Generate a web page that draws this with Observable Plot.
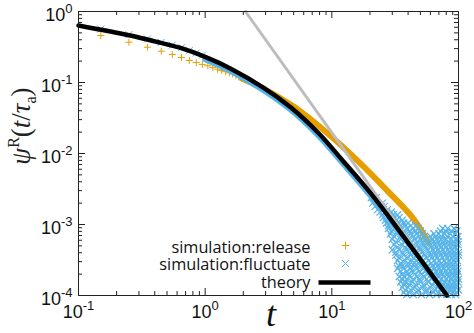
<!DOCTYPE html>
<html><head><meta charset="utf-8">
<script src="https://cdn.jsdelivr.net/npm/d3@7"></script>
<script src="https://cdn.jsdelivr.net/npm/@observablehq/plot@0.6"></script>
<style>body{margin:0;background:#fff}#chart{width:474px;height:333px}</style>
</head><body><div id="chart"></div>
<script>
// ---- axis ticks ----
const xMajor = [0.1, 1, 10, 100];
const yMajor = [1e-4, 1e-3, 1e-2, 1e-1, 1];
const minorSteps = [2, 3, 4, 5, 6, 7, 8, 9];

// ---- theory curve ----
const theoryT   = [0.1, 0.25, 0.4, 0.63, 1.0, 1.58, 2.9, 4.7, 7.9, 12.3, 20, 28.8, 81];
const theoryPsi = [0.635, 0.462, 0.38, 0.309, 0.229, 0.158, 0.0842, 0.0451, 0.0191, 0.0078, 0.00284, 0.00122, 0.0001];

// ---- power-law guide (gray) ----
const guideT   = [2.08, 50];
const guidePsi = [1, 0.00035];

// ---- simulation: release (orange +) ----
const releaseT   = [0.15, 0.25, 0.35, 0.45, 0.55, 0.65, 0.75, 0.85, 0.95, 1.05, 1.15, 1.25, 1.35, 1.45, 1.55, 1.65, 1.75, 1.85, 1.95];
const releasePsi = [0.459, 0.37, 0.314, 0.276, 0.248, 0.225, 0.204, 0.191, 0.18, 0.172, 0.163, 0.154, 0.148, 0.142, 0.137, 0.132, 0.126, 0.12, 0.114];
// dense part (markers merge into a band)
const releaseBandT   = [1.95, 3, 5.06, 9.29, 16.1, 28.2, 43.8, 57.9];
const releaseBandPsi = [0.114, 0.079, 0.0451, 0.0191, 0.0078, 0.00284, 0.00122, 0.000558];

// ---- simulation: fluctuate (blue x) ----
const fluctT   = [0.15, 0.25, 0.35, 0.45, 0.55, 0.65, 0.75, 0.85, 0.95];
const fluctPsi = [0.565, 0.472, 0.41, 0.367, 0.336, 0.309, 0.282, 0.26, 0.242];
const fluctBandT   = [1.0, 1.58, 2.9, 4.7, 7.9, 12.3, 20, 24];
const fluctBandPsi = [0.213, 0.147, 0.078, 0.042, 0.0177, 0.0072, 0.00262, 0.00172];
// noisy tail: rows of psi level with t values
const cloudPsiLevels = [2.4e-3, 2.0e-3, 1.8e-3, 1.62e-3, 1.5e-3, 1.37e-3, 1.25e-3, 1.15e-3, 1.05e-3, 9.6e-4, 8.8e-4, 8.1e-4, 7.4e-4, 6.8e-4, 6.2e-4, 5.7e-4, 5.2e-4, 4.8e-4, 4.4e-4, 4.05e-4, 3.7e-4, 3.4e-4, 3.1e-4, 2.85e-4, 2.6e-4, 2.4e-4, 2.2e-4, 2.0e-4, 1.85e-4, 1.7e-4, 1.55e-4, 1.42e-4, 1.3e-4, 1.2e-4, 1.1e-4, 1.03e-4];
const cloudTByLevel = [
  [20.5, 22.5],
  [21, 23, 25],
  [22, 24.5, 26],
  [23, 25.5, 27.5],
  [24, 27, 29.5],
  [25, 28, 30.5, 33],
  [25.5, 28, 31, 34],
  [26.5, 29.5, 32.5, 36],
  [27, 29, 33, 37, 40],
  [28, 31, 34.5, 38, 42, 46],
  [28, 31, 35, 39, 44, 48, 75, 82, 92],
  [29.5, 33, 37, 41, 46, 50, 72, 79, 88, 97],
  [29, 33, 37, 42, 47, 52, 64, 70, 78, 86, 95],
  [31, 35, 39, 44, 49, 54, 60, 66, 73, 81, 90, 99],
  [30, 35, 40, 45, 50, 56, 62, 67, 73, 80, 88, 97],
  [32, 37, 42, 47, 52, 58, 64, 70, 76, 83, 91, 99],
  [31, 36, 41, 47, 53, 60, 65, 71, 77, 84, 91, 99],
  [33, 38, 43, 49, 55, 61, 67, 73, 80, 87, 94],
  [30, 34, 39, 44, 50, 57, 63, 69, 75, 82, 89, 96],
  [32, 36, 41, 46, 52, 59, 65, 71, 78, 85, 92, 100],
  [32, 37, 42, 48, 54, 60, 66, 72, 79, 86, 93, 100],
  [34, 39, 44, 50, 56, 62, 68, 75, 82, 89, 96],
  [33, 38, 43, 46, 52, 58, 64, 70, 77, 84, 91, 98],
  [35, 40, 45, 49, 55, 61, 67, 73, 80, 87, 94],
  [34, 36, 40, 45, 51, 57, 62, 68, 74, 81, 88, 95],
  [33, 37, 42, 47, 53, 59, 65, 71, 77, 84, 91, 98],
  [35, 39, 43, 49, 55, 60, 66, 72, 79, 86, 93, 99],
  [36, 40, 45, 51, 57, 63, 69, 75, 82, 89, 96],
  [34, 37, 41, 47, 53, 63, 69, 76, 83, 90, 97],
  [36, 39, 44, 49, 56, 61, 67, 73, 80, 87, 94, 100],
  [35, 38, 43, 50, 58, 65, 71, 78, 85, 92, 99],
  [37, 41, 46, 53, 62, 70, 76, 82, 89, 96],
  [36, 40, 45, 52, 60, 68, 74, 81, 88, 95],
  [38, 42, 48, 56, 65, 72, 79, 86, 93, 100],
  [37, 41, 47, 55, 63, 70, 77, 84, 90, 97],
  [39, 44, 51, 59, 67, 74, 81, 88, 95]
];

const legendLabels = ["simulation:release", "simulation:fluctuate", "theory"];

// ---- build tables ----
const zip = (a, b) => a.map((v, i) => ({t: v, psi: b[i]}));
const theory = zip(theoryT, theoryPsi);
const guide = zip(guideT, guidePsi);
const release = zip(releaseT, releasePsi);
const releaseBand = zip(releaseBandT, releaseBandPsi);
const fluct = zip(fluctT, fluctPsi);
const fluctBand = zip(fluctBandT, fluctBandPsi);
const cloud = cloudTByLevel.flatMap((row, i) => row.map(t => ({t, psi: cloudPsiLevels[i]})));
const xMinor = xMajor.slice(0, -1).flatMap(m => minorSteps.map(k => m * k));
const yMinor = yMajor.slice(0, -1).flatMap(m => minorSteps.map(k => m * k));

const W = 474, H = 333, mL = 78, mR = 16, mT = 11, mB = 38;
const iw = W - mL - mR, ih = H - mT - mB;
const ORANGE = "#e69f00", BLUE = "#56b4e9", GRAY = "#bdbdbd";
const fmt = d => `10^${Math.round(Math.log10(d))}`;
const hline = {draw(ctx, size) { const l = Math.sqrt(size / Math.PI); ctx.moveTo(-l, 0); ctx.lineTo(l, 0); }};
const tk = "#222";
const legFont = {fontFamily: "'Open Sans', sans-serif", fontSize: 16.3, fill: "#111", textAnchor: "end", lineAnchor: "middle", frameAnchor: "bottom-right", dx: -148};

const svg = Plot.plot({
  width: W, height: H,
  marginLeft: mL, marginRight: mR, marginTop: mT, marginBottom: mB,
  x: {type: "log", domain: [0.1, 100]},
  y: {type: "log", domain: [1e-4, 1]},
  style: {fontFamily: "'Liberation Sans', Arial, sans-serif", fontSize: "18px", color: "#111", background: "#fff", overflow: "visible"},
  marks: [
    // inward ticks on all four sides
    Plot.tickX(xMajor, {x: d => d, insetTop: ih - 7, stroke: tk}),
    Plot.tickX(xMajor, {x: d => d, insetBottom: ih - 7, stroke: tk}),
    Plot.tickX(xMinor, {x: d => d, insetTop: ih - 4, stroke: tk}),
    Plot.tickX(xMinor, {x: d => d, insetBottom: ih - 4, stroke: tk}),
    Plot.tickY(yMajor, {y: d => d, insetRight: iw - 7, stroke: tk}),
    Plot.tickY(yMajor, {y: d => d, insetLeft: iw - 7, stroke: tk}),
    Plot.tickY(yMinor, {y: d => d, insetRight: iw - 4, stroke: tk}),
    Plot.tickY(yMinor, {y: d => d, insetLeft: iw - 4, stroke: tk}),
    // data
    Plot.line(releaseBand, {x: "t", y: "psi", stroke: ORANGE, strokeWidth: 6, curve: "catmull-rom"}),
    Plot.dot(release, {x: "t", y: "psi", symbol: "plus", r: 2.4, stroke: ORANGE, strokeWidth: 1}),
    Plot.line(fluctBand, {x: "t", y: "psi", stroke: BLUE, strokeWidth: 6, curve: "catmull-rom"}),
    Plot.dot(cloud, {x: "t", y: "psi", symbol: "times", r: 3.3, stroke: BLUE, strokeWidth: 1.2}),
    Plot.dot(fluct, {x: "t", y: "psi", symbol: "times", r: 3.3, stroke: BLUE, strokeWidth: 1}),
    Plot.line(guide, {x: "t", y: "psi", stroke: GRAY, strokeWidth: 3}),
    Plot.line(theory, {x: "t", y: "psi", stroke: "#000", strokeWidth: 4.5, curve: "catmull-rom"}),
    Plot.frame({stroke: tk, strokeWidth: 1}),
    // legend
    Plot.text([legendLabels[0]], {...legFont, text: d => d, dy: -48}),
    Plot.text([legendLabels[1]], {...legFont, text: d => d, dy: -31}),
    Plot.text([legendLabels[2]], {...legFont, text: d => d, dy: -13}),
    Plot.dot([legendLabels[0]], {frameAnchor: "bottom-right", dx: -113, dy: -50, symbol: "plus", r: 2.6, stroke: ORANGE, strokeWidth: 1}),
    Plot.dot([legendLabels[1]], {frameAnchor: "bottom-right", dx: -113, dy: -32, symbol: "times", r: 3.3, stroke: BLUE, strokeWidth: 1}),
    Plot.dot([legendLabels[2]], {frameAnchor: "bottom-right", dx: -114, dy: -13, symbol: hline, r: 26, stroke: "#000", fill: "none", strokeWidth: 4.5}),
    // axes labels
    Plot.axisX(xMajor, {anchor: "bottom", tickSize: 0, tickPadding: 10, tickFormat: fmt, label: null}),
    Plot.axisY(yMajor, {anchor: "left", tickSize: 0, tickPadding: 6, tickFormat: fmt, label: null, dy: 4})
  ]
});

const ns = "http://www.w3.org/2000/svg";
// superscript tick labels
svg.querySelectorAll('g[aria-label="x-axis tick label"] text, g[aria-label="y-axis tick label"] text').forEach(el => {
  const [base, exp] = el.textContent.split("^");
  el.textContent = "";
  const a = document.createElementNS(ns, "tspan"); a.textContent = base; el.appendChild(a);
  const b = document.createElementNS(ns, "tspan"); b.setAttribute("dy", "-8"); b.setAttribute("font-size", "13"); b.textContent = exp; el.appendChild(b);
});
// axis titles
function mk(tag, attrs, parent) { const e = document.createElementNS(ns, tag); for (const k in attrs) e.setAttribute(k, attrs[k]); parent.appendChild(e); return e; }
const xt = mk("text", {x: 271, y: 326, "text-anchor": "middle", "font-family": "'Liberation Serif', serif", "font-style": "italic", "font-size": 36, fill: "#111"}, svg);
xt.textContent = "t";
const yt = mk("text", {transform: "translate(30,126) rotate(-90)", "text-anchor": "middle", "font-family": "'Liberation Serif', serif", "font-size": 27, fill: "#222"}, svg);
const parts = [["ψ", {"font-style": "italic"}], ["R", {"font-size": 16, dy: -11}], ["(", {dy: 11}], ["t", {"font-style": "italic"}], ["/", {}], ["τ", {"font-style": "italic"}], ["a", {"font-size": 16, dy: 6}], [")", {dy: -6}]];
for (const [s, at] of parts) { const sp = mk("tspan", at, yt); sp.textContent = s; }
document.getElementById("chart").appendChild(svg);
</script>
</body></html>
